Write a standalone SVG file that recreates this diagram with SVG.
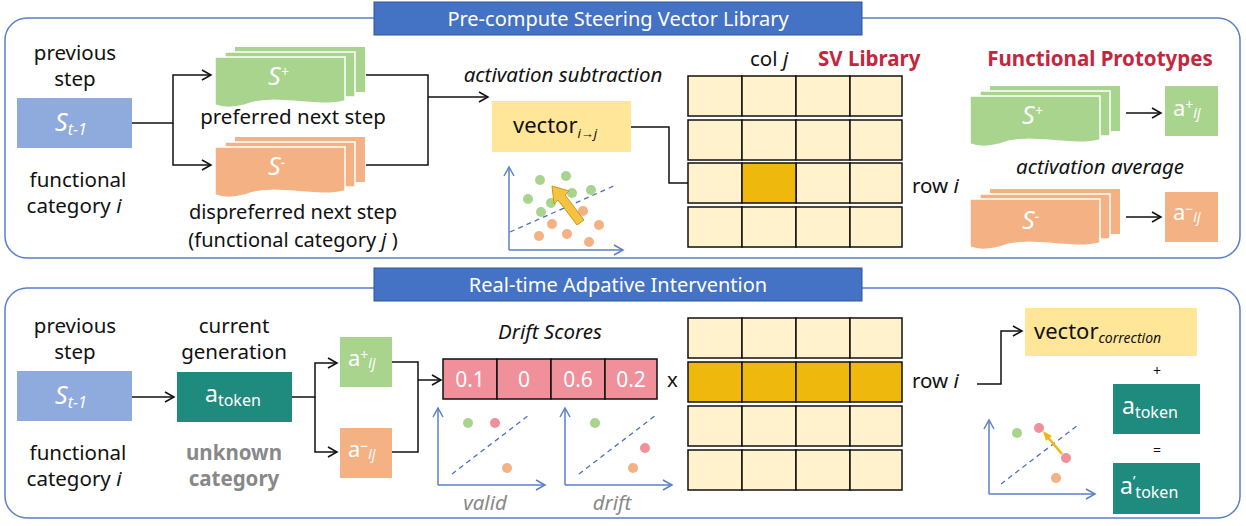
<svg xmlns="http://www.w3.org/2000/svg" width="1246" height="526" viewBox="0 0 1246 526">
<style>
text{font-family:"Noto Sans","Liberation Sans",Arial,sans-serif;font-size:20.5px;fill:#111}
.c{text-anchor:middle}
.it{font-style:italic}
.w{fill:#fff}
.red{fill:#C4273D;font-weight:bold}
.gray{fill:#888}
.ln{fill:none;stroke:#111;stroke-width:1.5}
.ax{fill:none;stroke:#5B7FC8;stroke-width:1.5}
.dash{fill:none;stroke:#4A70C0;stroke-width:1.3;stroke-dasharray:5,4}
.cell{fill:#FFF2CC;stroke:#111;stroke-width:1.5}
.hot{fill:#EFB80C;stroke:#111;stroke-width:1.5}
.ds{fill:#EF909A;stroke:#111;stroke-width:1.5}
.panel{fill:#fff;stroke:#5B7FC8;stroke-width:1.5}
.title{fill:#4472C4;stroke:#2F5597;stroke-width:1}
.gr{fill:#A9D48E}.og{fill:#F4B183}.bl{fill:#8FAADC}.tl{fill:#1F8A7E}.yl{fill:#FFE699}
</style>
<defs>
<marker id="ar" markerWidth="12" markerHeight="12" refX="10" refY="6" orient="auto" markerUnits="userSpaceOnUse"><path d="M1,1 L10,6 L1,11" fill="none" stroke="#111" stroke-width="1.5"/></marker>
<marker id="ab" markerWidth="12" markerHeight="12" refX="10" refY="6" orient="auto" markerUnits="userSpaceOnUse"><path d="M1,1 L10,6 L1,11" fill="none" stroke="#5B7FC8" stroke-width="1.5"/></marker>
<path id="doc" d="M0,0 H130 V44 C100,52 60,36 30,48 C15,52 5,50 0,48 Z"/>
<g id="stack"><rect x="20" y="-10" width="130" height="45"/><rect x="10" y="-5" width="130" height="45" stroke="#fff" stroke-width="1.5"/><use href="#doc" stroke="#fff" stroke-width="1.5"/></g>
</defs>

<rect class="panel" x="5" y="18" width="1235" height="240" rx="22"/>
<rect class="panel" x="5" y="288" width="1235" height="230" rx="22"/>
<g id="title1"><rect class="title" x="374" y="2" width="488" height="33"/><text class="c w" x="618" y="26" style="font-size:20px">Pre-compute Steering Vector Library</text></g>
<g id="title2"><rect class="title" x="374" y="268" width="488" height="33"/><text class="c w" x="618" y="292" style="font-size:20px">Real-time Adpative Intervention</text></g>

<g id="connectors">
<path class="ln" d="M132,123 H173 V75 H211" marker-end="url(#ar)"/>
<path class="ln" d="M173,123 V165 H211" marker-end="url(#ar)"/>
<path class="ln" d="M366,75 H428 V165 H366"/>
<path class="ln" d="M428,97 H488" marker-end="url(#ar)"/>
<path class="ln" d="M631,127 H669 V183 H740" marker-end="url(#ar)"/>
<path class="ln" d="M1126,113 H1161" marker-end="url(#ar)"/>
<path class="ln" d="M1126,217 H1161" marker-end="url(#ar)"/>
<path class="ln" d="M132,397 H174" marker-end="url(#ar)"/>
<path class="ln" d="M292,397 H315 V363 H337" marker-end="url(#ar)"/>
<path class="ln" d="M315,397 V452 H337" marker-end="url(#ar)"/>
<path class="ln" d="M392,362 H418 V452 H392"/>
<path class="ln" d="M418,380 H441" marker-end="url(#ar)"/>
<path class="ln" d="M977,384 H1001 V331 H1022" marker-end="url(#ar)"/>
</g>

<g id="prev1"><text class="c" x="75" y="60">previous</text><text class="c" x="75" y="86">step</text>
<rect class="bl" x="17" y="98" width="115" height="50"/><text class="w it" x="55" y="131" style="font-size:25px">S<tspan style="font-size:16px" dy="4">t−1</tspan></text>
<text class="c" x="78" y="187">functional</text><text class="c" x="74" y="213">category <tspan class="it">i</tspan></text></g>

<g id="splus1" class="gr"><use href="#stack" x="215" y="57"/><text class="w it" x="268" y="85" style="font-size:25px">S<tspan style="font-size:14px" dy="-8">+</tspan></text></g>
<text class="c" x="293" y="124">preferred next step</text>
<g id="sminus1" class="og"><use href="#stack" x="215" y="147"/><text class="w it" x="268" y="175" style="font-size:25px">S<tspan style="font-size:14px" dy="-8">−</tspan></text></g>
<text class="c" x="293" y="219" style="font-size:20px">dispreferred next step</text>
<text class="c" x="293" y="247" style="font-size:20px">(functional category <tspan class="it">j</tspan> )</text>

<g id="vec1"><text class="c it" x="563" y="82">activation subtraction</text>
<rect class="yl" x="492" y="101" width="139" height="51"/><text x="513" y="133" style="font-size:22px">vector<tspan class="it" style="font-size:13px" dy="5">i→j</tspan></text></g>
<g id="scatter1">
<path class="ax" d="M509,250 V167" marker-end="url(#ab)"/><path class="ax" d="M509,250 H623" marker-end="url(#ab)"/>
<path class="dash" d="M510,232 L616,185"/>
<g fill="#A9D48E"><circle cx="540" cy="180" r="5"/><circle cx="566" cy="176" r="5"/><circle cx="528" cy="199" r="5"/><circle cx="551" cy="203" r="5"/><circle cx="572" cy="193" r="5"/><circle cx="591" cy="190" r="5"/><circle cx="541" cy="212" r="5"/></g>
<g fill="#F4B183"><circle cx="583" cy="211" r="5"/><circle cx="552" cy="224" r="5"/><circle cx="599" cy="225" r="5"/><circle cx="539" cy="236" r="5"/><circle cx="567" cy="234" r="5"/><circle cx="589" cy="242" r="5"/></g>
<path d="M577,225 L558,200 L554,204 L552,186 L569,191 L565,195 L584,220 Z" fill="#F5C242" stroke="#C99A1A" stroke-width="1"/>
</g>

<g id="grid1">
<text x="750" y="66">col <tspan class="it">j</tspan></text><text class="red" x="818" y="66">SV Library</text>
<g class="cell">
<rect x="688" y="76" width="54" height="40"/><rect x="742" y="76" width="54" height="40"/><rect x="796" y="76" width="54" height="40"/><rect x="850" y="76" width="52" height="40"/>
<rect x="688" y="120" width="54" height="40"/><rect x="742" y="120" width="54" height="40"/><rect x="796" y="120" width="54" height="40"/><rect x="850" y="120" width="52" height="40"/>
<rect x="688" y="163" width="54" height="40"/><rect x="796" y="163" width="54" height="40"/><rect x="850" y="163" width="52" height="40"/>
<rect x="688" y="207" width="54" height="40"/><rect x="742" y="207" width="54" height="40"/><rect x="796" y="207" width="54" height="40"/><rect x="850" y="207" width="52" height="40"/>
</g>
<rect class="hot" x="742" y="163" width="54" height="40"/>
<text x="912" y="193">row <tspan class="it">i</tspan></text></g>

<g id="proto">
<text class="red c" x="1100" y="66">Functional Prototypes</text>
<g class="gr"><use href="#stack" x="970" y="96"/><text class="w it" x="1022" y="124" style="font-size:25px">S<tspan style="font-size:14px" dy="-8">+</tspan></text>
<rect x="1165" y="86" width="53" height="50"/><text class="w" x="1173" y="116" style="font-size:22px">a<tspan style="font-size:14px" dy="-6">+</tspan><tspan class="it" style="font-size:14px" dy="8">ij</tspan></text></g>
<text class="c it" x="1100" y="174">activation average</text>
<g class="og"><use href="#stack" x="970" y="199"/><text class="w it" x="1022" y="229" style="font-size:25px">S<tspan style="font-size:14px" dy="-8">−</tspan></text>
<rect x="1165" y="192" width="53" height="50"/><text class="w" x="1173" y="220" style="font-size:22px">a<tspan style="font-size:14px" dy="-6">−</tspan><tspan class="it" style="font-size:14px" dy="8">ij</tspan></text></g>
</g>

<g id="prev2"><text class="c" x="75" y="333">previous</text><text class="c" x="75" y="359">step</text>
<rect class="bl" x="17" y="371" width="115" height="50"/><text class="w it" x="55" y="404" style="font-size:25px">S<tspan style="font-size:16px" dy="4">t−1</tspan></text>
<text class="c" x="78" y="460">functional</text><text class="c" x="74" y="486">category <tspan class="it">i</tspan></text></g>
<g id="atoken1"><text class="c" x="234" y="333">current</text><text class="c" x="234" y="359">generation</text>
<rect class="tl" x="177" y="372" width="115" height="50"/><text class="w" x="205" y="402" style="font-size:23px">a<tspan style="font-size:16px" dy="4">token</tspan></text>
<text class="c gray" x="234" y="460" style="font-weight:bold">unknown</text><text class="c gray" x="234" y="486" style="font-weight:bold">category</text></g>
<g id="aplus2"><rect class="gr" x="340" y="337" width="52" height="50"/><text class="w" x="348" y="366" style="font-size:22px">a<tspan style="font-size:14px" dy="-6">+</tspan><tspan class="it" style="font-size:14px" dy="8">ij</tspan></text></g>
<g id="aminus2"><rect class="og" x="340" y="428" width="52" height="50"/><text class="w" x="348" y="457" style="font-size:22px">a<tspan style="font-size:14px" dy="-6">−</tspan><tspan class="it" style="font-size:14px" dy="8">ij</tspan></text></g>

<g id="drift">
<text class="c it" x="550" y="339">Drift Scores</text>
<rect class="ds" x="443" y="359" width="54" height="40"/><rect class="ds" x="497" y="359" width="54" height="40"/><rect class="ds" x="551" y="359" width="54" height="40"/><rect class="ds" x="605" y="359" width="52" height="40"/>
<text class="w c" x="470" y="387" style="font-size:21px">0.1</text><text class="w c" x="524" y="387" style="font-size:21px">0</text><text class="w c" x="578" y="387" style="font-size:21px">0.6</text><text class="w c" x="631" y="387" style="font-size:21px">0.2</text>
<text x="667" y="387">x</text>
<path class="ax" d="M438,485 V408" marker-end="url(#ab)"/><path class="ax" d="M438,485 H545" marker-end="url(#ab)"/>
<path class="dash" d="M452,474 L529,415"/>
<circle cx="468" cy="423" r="5" fill="#A9D48E"/><circle cx="495" cy="423" r="5" fill="#EF909A"/><circle cx="507" cy="468" r="5" fill="#F4B183"/>
<text class="c it gray" x="485" y="510">valid</text>
<path class="ax" d="M565,485 V408" marker-end="url(#ab)"/><path class="ax" d="M565,485 H672" marker-end="url(#ab)"/>
<path class="dash" d="M579,474 L656,415"/>
<circle cx="595" cy="423" r="5" fill="#A9D48E"/><circle cx="645" cy="448" r="5" fill="#EF909A"/><circle cx="633" cy="468" r="5" fill="#F4B183"/>
<text class="c it gray" x="612" y="510">drift</text>
</g>

<g id="grid2">
<g class="cell">
<rect x="688" y="318" width="54" height="40"/><rect x="742" y="318" width="54" height="40"/><rect x="796" y="318" width="54" height="40"/><rect x="850" y="318" width="52" height="40"/>
<rect x="688" y="406" width="54" height="40"/><rect x="742" y="406" width="54" height="40"/><rect x="796" y="406" width="54" height="40"/><rect x="850" y="406" width="52" height="40"/>
<rect x="688" y="450" width="54" height="40"/><rect x="742" y="450" width="54" height="40"/><rect x="796" y="450" width="54" height="40"/><rect x="850" y="450" width="52" height="40"/>
</g>
<g class="hot"><rect x="688" y="362" width="54" height="40"/><rect x="742" y="362" width="54" height="40"/><rect x="796" y="362" width="54" height="40"/><rect x="850" y="362" width="52" height="40"/></g>
<text x="912" y="388">row <tspan class="it">i</tspan></text></g>

<g id="correction">
<rect class="yl" x="1025" y="308" width="172" height="48"/><text x="1034" y="339" style="font-size:22px">vector<tspan class="it" style="font-size:14px" dy="4">correction</tspan></text>
<text class="c" x="1157" y="376" style="font-size:14px">+</text>
<rect class="tl" x="1113" y="384" width="87" height="50"/><text class="w" x="1122" y="414" style="font-size:23px">a<tspan style="font-size:16px" dy="4">token</tspan></text>
<text class="c" x="1157" y="455" style="font-size:14px">=</text>
<rect class="tl" x="1113" y="463" width="87" height="51"/><text class="w" x="1120" y="494" style="font-size:23px">a<tspan style="font-size:14px" dy="-8">’</tspan><tspan style="font-size:16px" dy="12">token</tspan></text>
<path class="ax" d="M989,494 V420" marker-end="url(#ab)"/><path class="ax" d="M989,494 H1095" marker-end="url(#ab)"/>
<path class="dash" d="M1001,484 L1078,425"/>
<circle cx="1017" cy="433" r="5" fill="#A9D48E"/><circle cx="1039" cy="428" r="5" fill="#EF909A"/><circle cx="1066" cy="458" r="5" fill="#EF909A"/><circle cx="1056" cy="478" r="5" fill="#F4B183"/>
<path d="M1062,454 L1045,434" stroke="#EFB80C" stroke-width="2.5" fill="none"/><path d="M1043,431 L1052,436 L1046,441 Z" fill="#EFB80C"/>
</g>
</svg>
